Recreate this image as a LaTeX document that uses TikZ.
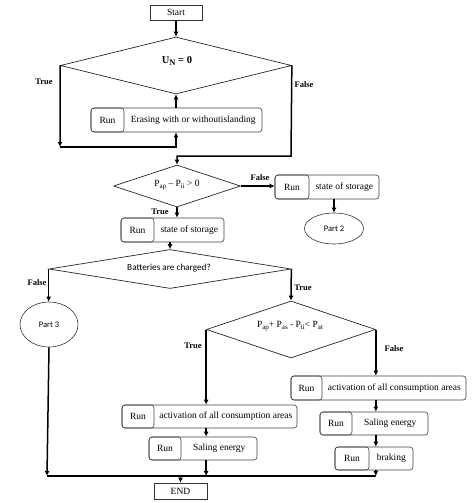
\documentclass[tikz,border=0pt]{standalone}
\usepackage{fontspec}
\setmainfont{Liberation Serif}
\newfontfamily\calib{Carlito}
\usetikzlibrary{shapes.geometric,arrows.meta,calc}
\newcommand\lowsub[1]{\raisebox{-2pt}{\fontsize{7}{8}\selectfont #1}}
\newcommand\bigsub[1]{\raisebox{-2.5pt}{\fontsize{8.5}{9}\selectfont #1}}
\begin{document}
\begin{tikzpicture}[x=1pt,y=-1pt,
  font=\fontsize{9.5}{11}\selectfont,
  arr/.style={line width=1.5pt,-{Latex[length=5pt,width=5pt]}},
  ln/.style={line width=1.5pt},
  dia/.style={diamond,draw=black!85,line width=0.7pt,inner sep=0pt},
  box/.style={draw=black!80,line width=0.6pt,inner sep=0pt},
  runbox/.style={draw=black!75,rounded corners=3pt,line width=0.6pt,inner sep=0pt},
  runpart/.style={draw=black!75,rounded corners=3pt,line width=0.6pt,inner sep=0pt,anchor=north west},
  oval/.style={ellipse,draw=black!80,line width=0.6pt,inner sep=0pt,font=\calib\fontsize{8.5}{10}\selectfont},
  lbl/.style={font=\bfseries\fontsize{8.5}{10}\selectfont}]
\useasboundingbox (0,0) rectangle (474,503);
% start / end
\node[box,minimum width=52pt,minimum height=15pt] (start) at (176,12.5) {Start};
\node[box,minimum width=53pt,minimum height=16pt] (end) at (180.5,491) {END};
% diamonds
\node[dia,minimum width=231pt,minimum height=57pt] (d1) at (176,65.5) {};
\node[font=\bfseries\fontsize{10.5}{12}\selectfont] (d1t) at (177,61) {U\bigsub{N} = 0};
\node[dia,minimum width=127pt,minimum height=42pt] (d2) at (177,186) {};
\node (d2t) at (177,185) {P\lowsub{ap} -- P\lowsub{ii} > 0};
\node[dia,minimum width=242pt,minimum height=39pt] (d3) at (170,269) {};
\node[font=\calib\fontsize{9.2}{11}\selectfont] (d3t) at (169,268) {Batteries are charged?};
\node[dia,minimum width=169pt,minimum height=57pt] (d4) at (291,329.5) {};
\node (d4t) at (290,326) {P\lowsub{ap}+ P\lowsub{as} - P\lowsub{ii}< P\lowsub{at}};
% run boxes
\node[runbox,minimum width=171pt,minimum height=24pt] (run1) at (176.5,120) {};
\node[runpart,minimum width=33pt,minimum height=24pt] (run1p) at (run1.north west) {Run};
\node (run1t) at ($(run1p.east)!0.5!(run1.east)$) {Erasing with or withoutislanding};

\node[runbox,minimum width=104pt,minimum height=24pt] (run2) at (327,187) {};
\node[runpart,minimum width=34pt,minimum height=24pt] (run2p) at (run2.north west) {Run};
\node (run2t) at ($(run2p.east)!0.5!(run2.east)$) {state of storage};

\node[runbox,minimum width=103pt,minimum height=24pt] (run3) at (172.5,230) {};
\node[runpart,minimum width=33pt,minimum height=24pt] (run3p) at (run3.north west) {Run};
\node (run3t) at ($(run3p.east)!0.5!(run3.east)$) {state of storage};

\node[runbox,minimum width=175pt,minimum height=23pt] (run5) at (209.5,416.5) {};
\node[runpart,minimum width=32pt,minimum height=23pt] (run5p) at (run5.north west) {Run};
\node (run5t) at ($(run5p.east)!0.5!(run5.east)$) {activation of all consumption areas};

\node[runbox,minimum width=108pt,minimum height=23pt] (run6) at (203,448.5) {};
\node[runpart,minimum width=32pt,minimum height=23pt] (run6p) at (run6.north west) {Run};
\node (run6t) at ($(run6p.east)!0.5!(run6.east)$) {Saling energy};

\node[runbox,minimum width=175pt,minimum height=24pt] (run7) at (378.5,388) {};
\node[runpart,minimum width=31pt,minimum height=24pt] (run7p) at (run7.north west) {Run};
\node (run7t) at ($(run7p.east)!0.5!(run7.east)$) {activation of all consumption areas};

\node[runbox,minimum width=108pt,minimum height=23pt] (run8) at (374,423.5) {};
\node[runpart,minimum width=32pt,minimum height=23pt] (run8p) at (run8.north west) {Run};
\node (run8t) at ($(run8p.east)!0.5!(run8.east)$) {Saling energy};

\node[runbox,minimum width=78pt,minimum height=23pt] (run9) at (374,458.5) {};
\node[runpart,minimum width=34pt,minimum height=23pt] (run9p) at (run9.north west) {Run};
\node (run9t) at ($(run9p.east)!0.5!(run9.east)$) {braking};
% ovals
\node[oval,minimum width=59pt,minimum height=31pt] (part2) at (334,228.5) {Part 2};
\node[oval,minimum width=58pt,minimum height=45pt] (part3) at (49,324.5) {Part 3};
% labels
\node[lbl] at (44,82) {True};
\node[lbl] at (304,85) {False};
\node[lbl] at (260,178) {False};
\node[lbl] at (160,212) {True};
\node[lbl] at (37,283) {False};
\node[lbl] at (303,288) {True};
\node[lbl] at (193,346) {True};
\node[lbl] at (394,349) {False};
% coordinates
\coordinate (tl) at (60,147);
\coordinate (tr) at (d1.south |- tl);
\coordinate (fr) at (291,156);
\coordinate (fm) at (d2.north |- fr);
\coordinate (bl) at (47,476);
\coordinate (br) at (d4.east |- bl);
% connectors
\draw[arr] (start.south) -- (start.south |- d1.north);
\draw[arr] (d1.west) -- (tl);
\draw[arr] (tl) -- (tr) -- (d1.south |- run1.south);
\draw[arr] (d1.south |- run1.north) -- (d1.south);
\draw[arr] (d1.east) -- (fr) -- (fm) -- (d2.north);
\draw[arr] (d2.east) -- (d2.east -| run2.west);
\draw[arr] (d2.south) -- (d2.south |- run3.north);
\draw[arr] (part2.north |- run2.south) -- (part2.north);
\draw[arr] (d3.north |- run3.south) -- (d3.north);
\draw[arr] (d3.west) -- (d3.west |- part3.north);
\draw[arr] (d3.east) -- (d4.north);
\draw[arr] (part3.south) -- (bl);
\draw[ln] (bl) -- (br);
\draw[arr] (d4.west) -- (d4.west |- run5.north);
\draw[arr] (d4.west |- run5.south) -- (d4.west |- run6.north);
\draw[arr] (d4.west |- run6.south) -- (d4.west |- bl);
\draw[arr] (d4.east) -- (d4.east |- run7.north);
\draw[arr] (d4.east |- run7.south) -- (d4.east |- run8.north);
\draw[arr] (d4.east |- run8.south) -- (d4.east |- run9.north);
\draw[arr] (d4.east |- run9.south) -- (br);
\draw[arr] (end.north |- bl) -- (end.north);
\end{tikzpicture}
\end{document}
